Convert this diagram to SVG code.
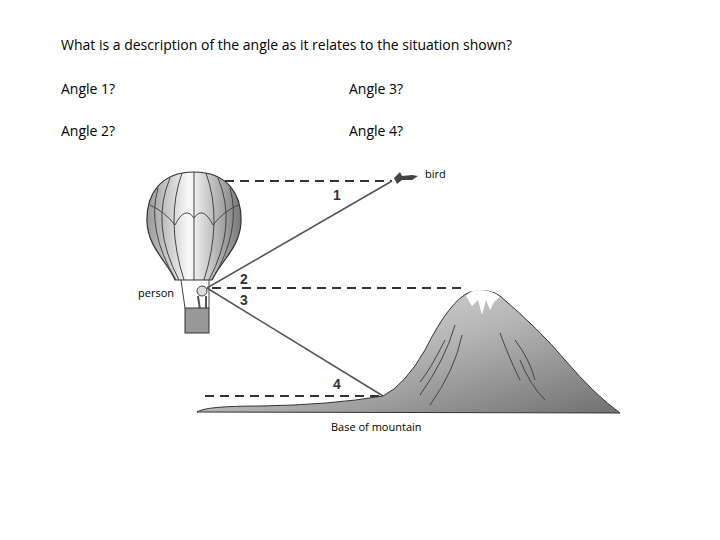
<svg xmlns="http://www.w3.org/2000/svg" width="720" height="540" viewBox="0 0 720 540">
<style>
.t{font-family:"Open Sans","Liberation Sans",sans-serif;font-size:14px;fill:#000}
.s{font-family:"Open Sans","Liberation Sans",sans-serif;font-size:11px;fill:#000}
.n{font-family:"Liberation Sans",sans-serif;font-size:14px;font-weight:bold;fill:#333}
.d{stroke:#333;stroke-width:2;stroke-dasharray:9,6;fill:none}
.l{stroke:#555;stroke-width:1.6;fill:none}
.r{stroke:#444;stroke-width:1;fill:none}
</style>
<defs>
<linearGradient id="bg" x1="0" x2="1"><stop offset="0" stop-color="#999"/><stop offset="0.45" stop-color="#fafafa"/><stop offset="1" stop-color="#777"/></linearGradient>
<linearGradient id="mg" x1="0" y1="0" x2="1" y2="1"><stop offset="0" stop-color="#e4e4e4"/><stop offset="0.5" stop-color="#b5b5b5"/><stop offset="1" stop-color="#707070"/></linearGradient>
</defs>
<rect width="720" height="540" fill="#fff"/>
<text class="t" x="61" y="50">What is a description of the angle as it relates to the situation shown?</text>
<text class="t" x="61" y="94">Angle 1?</text>
<text class="t" x="349" y="94">Angle 3?</text>
<text class="t" x="61" y="136">Angle 2?</text>
<text class="t" x="349" y="136">Angle 4?</text>
<g id="mountain">
<path d="M197,412 Q205,406 260,406 Q330,405 383,396 Q405,385 425,350 Q450,300 470,292 Q490,288 500,296 Q540,330 565,360 Q595,395 620,413 Z" fill="url(#mg)" stroke="#333" stroke-width="1"/>
<path d="M466,296 Q470,290 480,290 Q492,290 500,297 L494,302 L490,310 L486,300 L482,315 L478,300 L472,306 Z" fill="#fff"/>
<path class="r" d="M455,325 Q445,360 420,395 M445,340 Q430,370 420,382 M462,335 Q455,370 430,405 M500,333 Q510,360 520,380 M515,340 Q530,360 535,380 M520,360 Q530,385 545,400"/>
</g>
<g id="balloon">
<path d="M194,172 C160,172 146,195 147,222 C148,248 168,262 175,280 L212,280 C220,262 240,248 241,222 C242,195 228,172 194,172 Z" fill="url(#bg)" stroke="#333" stroke-width="1.2"/>
<path class="r" d="M194,172 L194,280 M182,173 Q165,220 184,280 M206,173 Q223,220 204,280 M170,178 Q150,225 179,280 M218,178 Q238,225 209,280 M158,188 Q146,230 176,280 M230,188 Q242,230 212,280 M150,205 Q165,212 175,225 Q185,205 194,218 Q203,205 213,225 Q223,212 238,205"/>
<line class="r" x1="181" y1="280" x2="185" y2="308"/><line class="r" x1="209" y1="280" x2="209" y2="308"/>
<circle cx="202" cy="291" r="5" fill="#ddd" stroke="#444"/>
<path d="M198,296 L200,310 M206,296 L206,310" stroke="#555" stroke-width="2"/>
<rect x="185" y="308" width="24" height="25" fill="#999" stroke="#333"/>
</g>
<g id="bird"><path d="M394,178 L400,172 L402,176 L412,175 L418,176 L412,180 L402,180 L397,184 Z" fill="#444"/></g>
<g id="connectors">
<line class="d" x1="225" y1="181" x2="392" y2="181"/>
<line class="d" x1="212" y1="288" x2="462" y2="288"/>
<line class="d" x1="205" y1="396" x2="383" y2="396"/>
<line class="l" x1="207" y1="288" x2="392" y2="181"/>
<line class="l" x1="207" y1="288" x2="383" y2="396"/>
</g>
<text class="n" x="333" y="200">1</text>
<text class="n" x="240" y="284">2</text>
<text class="n" x="240" y="305">3</text>
<text class="n" x="333" y="389">4</text>
<text class="s" x="425" y="178">bird</text>
<text class="s" x="138" y="297">person</text>
<text class="s" x="331" y="431">Base of mountain</text>
</svg>
